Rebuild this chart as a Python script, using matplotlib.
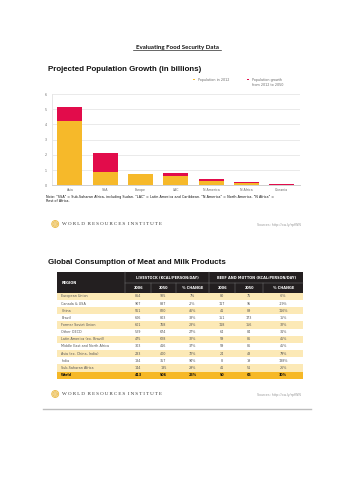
"""
Worksheet page: projected population growth bar chart plus the
meat and milk consumption table (WRI), recreated with matplotlib.
"""

import matplotlib
matplotlib.use("Agg")
import matplotlib.pyplot as plt
from matplotlib.patches import Rectangle, Circle

# ── data ──────────────────────────────────────────────────────────────────────
regions = ["Asia", "SSA", "Europe", "LAC", "N America", "N Africa", "Oceania"]
pop_2012 = [4.25, 0.90, 0.74, 0.60, 0.31, 0.16, 0.05]
pop_growth = [0.90, 1.24, 0.00, 0.19, 0.11, 0.08, 0.03]
y_ticks = [0, 1, 2, 3, 4, 5, 6]

table_regions = ["European Union", "Canada & USA", "China", "Brazil",
                 "Former Soviet Union", "Other OECD", "Latin America (ex. Brazil)",
                 "Middle East and North Africa", "Asia (ex. China, India)",
                 "India", "Sub-Saharan Africa", "World"]
livestock_2006 = [864, 907, 561, 606, 601, 529, 475, 303, 233, 184, 144, 413]
livestock_2050 = [925, 887, 820, 803, 768, 674, 628, 416, 400, 357, 185, 506]
livestock_chg = ["7%", "-2%", "46%", "33%", "28%", "27%", "32%", "37%",
                 "72%", "94%", "29%", "23%"]
beef_2006 = [80, 117, 41, 151, 118, 64, 59, 59, 24, 8, 41, 50]
beef_2050 = [75, 95, 89, 173, 156, 84, 86, 86, 43, 19, 51, 65]
beef_chg = ["-6%", "-19%", "116%", "15%", "32%", "31%", "45%", "45%",
            "79%", "138%", "26%", "30%"]

# ── palette ───────────────────────────────────────────────────────────────────
C = {
    "yellow": "#f6b92a",
    "red":    "#e20c4b",
    "grid":   "#e6e6e6",
    "axis":   "#cfcfcf",
    "text":   "#111111",
    "sub":    "#6b6b6b",
    "head":   "#231f20",
    "stripe": "#fce9b6",
    "world":  "#f6b826",
    "logo":   "#e9b53a",
}

W, H = 354, 500
fig = plt.figure(figsize=(W / 100, H / 100), dpi=100)
fig.patch.set_facecolor("white")

# page overlay in pixel coordinates (y down)
page = fig.add_axes([0, 0, 1, 1])
page.set_xlim(0, W)
page.set_ylim(H, 0)
page.axis("off")


def frac(x0, y0, x1, y1):
    return [x0 / W, 1 - y1 / H, (x1 - x0) / W, (y1 - y0) / H]


# ── page heading ──────────────────────────────────────────────────────────────
page.text(177, 47.5, "Evaluating Food Security Data", ha="center", va="center",
          fontsize=4.4, fontweight="bold", family="Lato", color=C["text"])
page.plot([133, 221], [50.3, 50.3], color=C["text"], lw=0.45)

page.text(47.5, 69.5, "Projected Population Growth (in billions)", ha="left",
          va="center", fontsize=5.7, fontweight="bold",
          family="Liberation Sans", color=C["text"])

# legend
page.add_patch(Rectangle((193, 78.7), 1.8, 1.8, color=C["yellow"], lw=0))
page.text(197.5, 79.7, "Population in 2012", ha="left", va="center",
          fontsize=2.4, color=C["sub"])
page.add_patch(Rectangle((247, 78.7), 1.8, 1.8, color=C["red"], lw=0))
page.text(251.5, 78.2, "Population growth\nfrom 2012 to 2050", ha="left",
          va="top", fontsize=2.4, color=C["sub"], linespacing=1.1)

# ── bar chart ─────────────────────────────────────────────────────────────────
ax = fig.add_axes(frac(52.3, 94, 299.5, 185.3))
ax.set_facecolor("none")
x = range(len(regions))
ax.bar(x, pop_2012, width=0.71, color=C["yellow"], zorder=3)
ax.bar(x, pop_growth, width=0.71, bottom=pop_2012, color=C["red"], zorder=3)
ax.set_xlim(-0.5, len(regions) - 0.5)
ax.set_ylim(0, 6)
ax.set_yticks(y_ticks)
ax.set_yticklabels([str(t) for t in y_ticks])
ax.set_xticks(list(x))
ax.set_xticklabels(regions)
ax.tick_params(axis="both", length=0, labelsize=2.3, labelcolor=C["sub"])
ax.tick_params(axis="y", pad=4)
ax.tick_params(axis="x", pad=2)
ax.grid(axis="y", color=C["grid"], lw=0.6, zorder=0)
for side in ["top", "right"]:
    ax.spines[side].set_visible(False)
ax.spines["left"].set_color(C["grid"])
ax.spines["left"].set_linewidth(0.7)
ax.spines["bottom"].set_color(C["axis"])
ax.spines["bottom"].set_linewidth(0.7)

page.text(46, 199, 'Note: "SSA" = Sub-Saharan Africa, including Sudan. "LAC" = '
          'Latin America and Caribbean. "N America" = North America. '
          '"N Africa" =\nRest of Africa.', ha="left", va="center",
          fontsize=2.45, color=C["text"], linespacing=1.05)

# letter-spaced serif caps for the institute name
WRI_NAME = "  ".join("\u2009".join(w) for w in
                     "WORLD RESOURCES INSTITUTE".split())


def wri_logo(y):
    page.add_patch(Circle((55.2, y), 3.9, color=C["logo"], lw=0))
    for r in (2.9, 1.8, 0.8):
        page.add_patch(Circle((55.2, y), r, fill=False, ec="white", lw=0.25))
    page.text(62.3, y + 0.3, WRI_NAME, ha="left", va="center", fontsize=3.7,
              family=["Liberation Serif", "DejaVu Serif"], color="#3a3a3a")
    page.text(300.5, y + 0.6, "Sources: http://ow.ly/rpfWN", ha="right",
              va="center", fontsize=2.3, color="#9a9a9a")


wri_logo(224)

# ── table ─────────────────────────────────────────────────────────────────────
page.text(47.5, 262.3, "Global Consumption of Meat and Milk Products",
          ha="left", va="center", fontsize=5.7, fontweight="bold",
          family="Liberation Sans", color=C["text"])

cols = [57, 125.3, 151, 175.7, 209.3, 235, 263.3, 303]
top, mid, hbot = 272.3, 282.7, 292.8
row_h = (378.7 - hbot) / len(table_regions)

page.add_patch(Rectangle((cols[0], top), cols[-1] - cols[0], hbot - top,
                         color=C["head"], lw=0))
# header separators
for cx in (cols[1], cols[4]):
    page.plot([cx, cx], [top, hbot], color="#777777", lw=0.35)
for cx in (cols[2], cols[3], cols[5], cols[6]):
    page.plot([cx, cx], [mid, hbot], color="#777777", lw=0.35)
page.plot([cols[1], cols[-1]], [mid, mid], color="#777777", lw=0.35)

hkw = dict(va="center", fontsize=2.5, fontweight="bold", color="white")
page.text(61.3, (top + hbot) / 2, "REGION", ha="left", **hkw)
page.text((cols[1] + cols[4]) / 2, (top + mid) / 2,
          "LIVESTOCK (KCAL/PERSON/DAY)", ha="center", **hkw)
page.text((cols[4] + cols[7]) / 2, (top + mid) / 2,
          "BEEF AND MUTTON (KCAL/PERSON/DAY)", ha="center", **hkw)
for i, lab in enumerate(["2006", "2050", "% CHANGE"] * 2):
    page.text((cols[i + 1] + cols[i + 2]) / 2, (mid + hbot) / 2, lab,
              ha="center", **hkw)

for r, name in enumerate(table_regions):
    y0 = hbot + r * row_h
    last = r == len(table_regions) - 1
    if last:
        fc = C["world"]
    elif r % 2 == 0:
        fc = C["stripe"]
    else:
        fc = "white"
    page.add_patch(Rectangle((cols[0], y0), cols[-1] - cols[0], row_h,
                             color=fc, lw=0))
    kw = dict(va="center", fontsize=2.45,
              color=C["text"] if last else "#555555",
              fontweight="bold" if last else "normal")
    yc = y0 + row_h / 2
    page.text(61.3, yc, name, ha="left", **kw)
    vals = [livestock_2006[r], livestock_2050[r], livestock_chg[r],
            beef_2006[r], beef_2050[r], beef_chg[r]]
    for i, v in enumerate(vals):
        page.text((cols[i + 1] + cols[i + 2]) / 2, yc, str(v), ha="center",
                  **kw)

wri_logo(394)

page.plot([43, 311], [409.3, 409.3], color="#bdbdbd", lw=1.0)

fig.savefig("out.png", dpi=100, facecolor="white")
